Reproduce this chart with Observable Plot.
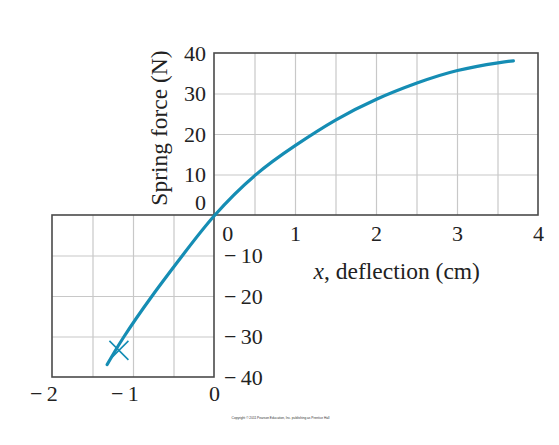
<!DOCTYPE html>
<html>
<head>
<meta charset="utf-8">
<script src="https://cdn.jsdelivr.net/npm/d3@7"></script>
<script src="https://cdn.jsdelivr.net/npm/@observablehq/plot@0.6"></script>
<style>
  html, body { margin: 0; padding: 0; background: #ffffff; overflow: hidden; }
</style>
</head>
<body>
<div id="chart"></div>
<script>
// Curve readings: deflection x (cm) and spring force (N)
const deflection = [-1.325, -1.12, -0.775, -0.40, 0, 0.5, 1, 1.5, 2, 2.5, 3, 3.5, 3.69];
const force      = [-36.8, -30, -20, -10, 0, 9.9, 17.3, 23.6, 28.7, 32.7, 35.8, 37.7, 38.2];

// Marked point (×)
const markX = [-1.18];
const markY = [-33.3];

// Tick labels
const upperYTicks = [10, 20, 30, 40];
const lowerYTicks = [-10, -20, -30, -40];
const upperXTicks = [1, 2, 3, 4];
const lowerXTicks = [-2, -1, 0];

// Grid lines
const upperGridX = [0.5, 1, 1.5, 2, 2.5, 3, 3.5];
const upperGridY = [10, 20, 30];
const lowerGridX = [-1.5, -1, -0.5];
const lowerGridY = [-10, -20, -30];

const curveData = deflection.map((x, i) => ({x, y: force[i]}));
const markData = markX.map((x, i) => ({x, y: markY[i]}));

const xMin = d3.min(lowerXTicks), xMax = d3.max(upperXTicks);
const yMin = d3.min(lowerYTicks), yMax = d3.max(upperYTicks);
const quadrants = [
  {x1: 0, x2: xMax, y1: 0, y2: yMax},
  {x1: xMin, x2: 0, y1: yMin, y2: 0}
];

const serif = "Liberation Serif, Times New Roman, serif";
const teal = "#158db4";
const minus = d => (d < 0 ? "\u2212\u2009" : "") + Math.abs(d);

const chart = Plot.plot({
  width: 559,
  height: 445,
  marginLeft: 52,
  marginRight: 21,
  marginTop: 53,
  marginBottom: 68,
  style: {background: "white", fontFamily: serif},
  x: {domain: [xMin, xMax], axis: null},
  y: {domain: [yMin, yMax], axis: null},
  marks: [
    // grid
    Plot.ruleX(upperGridX, {x: d => d, y1: () => 0, y2: () => yMax, stroke: "#c8c8c8", strokeWidth: 1.2}),
    Plot.ruleY(upperGridY, {y: d => d, x1: () => 0, x2: () => xMax, stroke: "#c8c8c8", strokeWidth: 1.2}),
    Plot.ruleX(lowerGridX, {x: d => d, y1: () => yMin, y2: () => 0, stroke: "#c8c8c8", strokeWidth: 1.2}),
    Plot.ruleY(lowerGridY, {y: d => d, x1: () => xMin, x2: () => 0, stroke: "#c8c8c8", strokeWidth: 1.2}),
    // quadrant frames
    Plot.rect(quadrants, {x1: "x1", x2: "x2", y1: "y1", y2: "y2", fill: "none", stroke: "#4a4a4a", strokeWidth: 1.6}),
    // curve
    Plot.line(curveData, {x: "x", y: "y", curve: "natural", stroke: teal, strokeWidth: 3.2, strokeLinecap: "round"}),
    Plot.dot(markData, {x: "x", y: "y", symbol: "times", r: 8.7, stroke: teal, strokeWidth: 1.6}),
    // y tick labels (upper, left of axis)
    Plot.text(upperYTicks, {x: () => 0, y: d => d, text: d => String(d), textAnchor: "end", dx: -8.5, fontSize: 22, fill: "#222"}),
    Plot.text([0], {x: () => 0, y: d => d, text: d => String(d), textAnchor: "end", dx: -8.5, dy: -13, fontSize: 22, fill: "#222"}),
    // y tick labels (lower, right of axis)
    Plot.text(lowerYTicks, {x: () => 0, y: d => d, text: minus, textAnchor: "start", dx: 9.5, fontSize: 22, fill: "#222"}),
    // x tick labels (upper, below y=0)
    Plot.text([0], {x: d => d, y: () => 0, text: d => String(d), textAnchor: "middle", dx: 13.2, dy: 18, fontSize: 22, fill: "#222"}),
    Plot.text(upperXTicks, {x: d => d, y: () => 0, text: d => String(d), textAnchor: "middle", dy: 18, fontSize: 22, fill: "#222"}),
    // x tick labels (lower, below y=-40)
    Plot.text(lowerXTicks.filter(d => d < 0), {x: d => d, y: () => yMin, text: minus, textAnchor: "end", dx: 5.3, dy: 16.5, fontSize: 22, fill: "#222"}),
    Plot.text(lowerXTicks.filter(d => d === 0), {x: d => d, y: () => yMin, text: d => String(d), textAnchor: "middle", dy: 16.5, fontSize: 22, fill: "#222"}),
    // axis titles
    Plot.text(["Spring force (N)"], {frameAnchor: "top-left", dx: 98, dy: 74.5, rotate: -90, text: d => d, textAnchor: "middle", fontSize: 23.5, fill: "#222"}),
    Plot.text(["x"], {frameAnchor: "top-left", dx: 261, dy: 208.5, text: d => d, textAnchor: "start", fontSize: 23.5, fontStyle: "italic", fill: "#222"}),
    Plot.text([", deflection (cm)"], {frameAnchor: "top-left", dx: 271.5, dy: 208.5, text: d => d, textAnchor: "start", fontSize: 23.5, fill: "#222"}),
    // copyright line
    Plot.text(["Copyright \u00a9 2011 Pearson Education, Inc. publishing as Prentice Hall"], {frameAnchor: "bottom-left", dx: 228, dy: 41, text: d => d, textAnchor: "middle", fontSize: 3.2, fontFamily: "Liberation Sans, Arial, sans-serif", fill: "#333"})
  ]
});

document.getElementById("chart").appendChild(chart);
</script>
</body>
</html>
